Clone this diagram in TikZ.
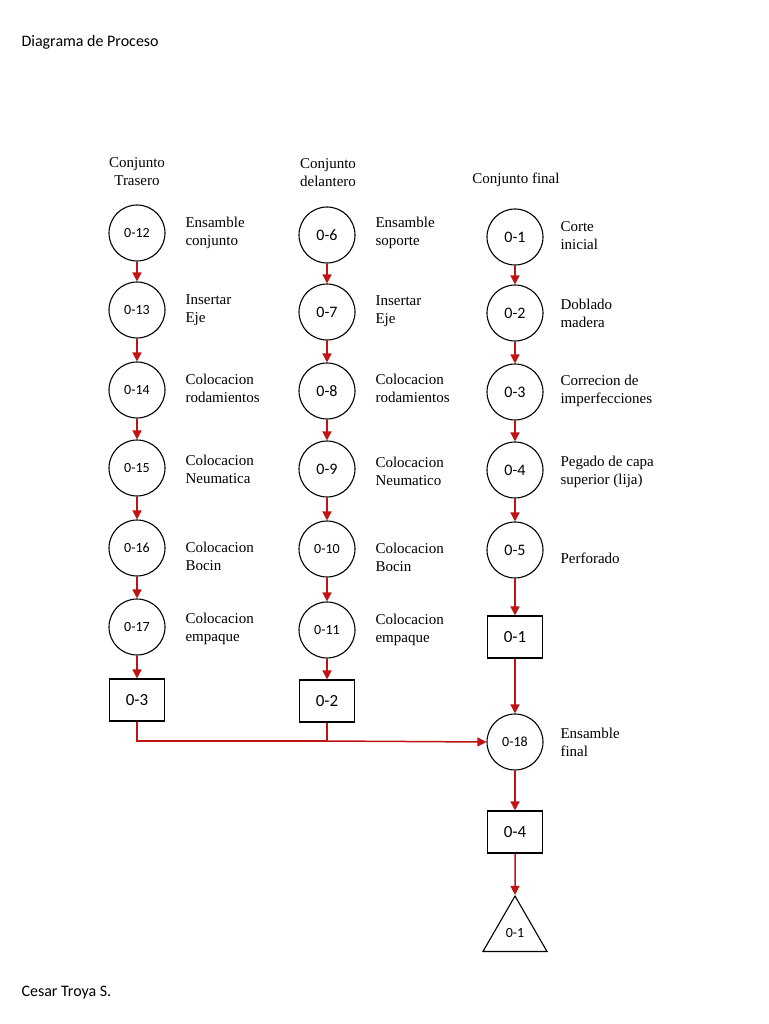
\documentclass[tikz,border=0pt]{standalone}
\usepackage{fontspec}
\setmainfont{Liberation Serif}
\newfontfamily\calfnt{Carlito}
\usetikzlibrary{shapes.geometric,arrows.meta}
\definecolor{ar}{RGB}{192,20,20}
\begin{document}
\begin{tikzpicture}[x=1pt,y=-1pt,
 op/.style={circle,draw,line width=1.1pt,minimum size=56pt,inner sep=0pt,font=\calfnt\fontsize{16}{16}\selectfont},
 ops/.style={op,font=\calfnt\fontsize{14}{14}\selectfont},
 bx/.style={draw,line width=1.1pt,minimum width=55pt,minimum height=42pt,font=\calfnt\fontsize{17}{17}\selectfont},
 tri/.style={draw,line width=1.1pt,regular polygon,regular polygon sides=3,minimum size=74pt,inner sep=0pt,font=\calfnt\fontsize{14}{14}\selectfont},
 lb/.style={anchor=west,align=left,font=\fontsize{15}{18}\selectfont},
 hd/.style={align=center,font=\fontsize{15}{18}\selectfont},
 ln/.style={draw=ar,line width=1.5pt},
 a/.style={ln,-{Triangle[length=9pt,width=9pt]}}]
\useasboundingbox (0,0) rectangle (768,1024);
\node[anchor=west,font=\calfnt\fontsize{16}{16}\selectfont] (t) at (18,42) {Diagrama de Proceso};
\node[anchor=west,font=\calfnt\fontsize{16}{16}\selectfont] (s) at (18,993) {Cesar Troya S.};
\node[hd] (h1) at (137,172) {Conjunto\\Trasero};
\node[hd] (h2) at (328,173) {Conjunto\\delantero};
\node[hd] (h3) at (516,180) {Conjunto final};
% col1
\node[ops] (c12) at (137,233) {0-12};
\node[ops] (c13) at (137,310) {0-13};
\node[ops] (c14) at (137,390) {0-14};
\node[ops] (c15) at (137,468) {0-15};
\node[ops] (c16) at (137,548) {0-16};
\node[ops] (c17) at (137,627) {0-17};
\node[bx] (b3) at (137,700) {0-3};
\node[lb] (l12) at (182,233) {Ensamble\\conjunto};
\node[lb] (l13) at (182,310) {Insertar\\Eje};
\node[lb] (l14) at (182,388) {Colocacion\\rodamientos};
\node[lb] (l15) at (182,469) {Colocacion\\Neumatica};
\node[lb] (l16) at (182,556) {Colocacion\\Bocin};
\node[lb] (l17) at (182,629) {Colocacion\\empaque};
% col2
\node[op] (c6) at (327,235) {0-6};
\node[op] (c7) at (327,312) {0-7};
\node[op] (c8) at (327,391) {0-8};
\node[op] (c9) at (327,469) {0-9};
\node[ops] (c10) at (327,549) {0-10};
\node[ops] (c11) at (327,630) {0-11};
\node[bx] (b2) at (327,701) {0-2};
\node[lb] (l6) at (372,233) {Ensamble\\soporte};
\node[lb] (l7) at (372,311) {Insertar\\Eje};
\node[lb] (l8) at (372,388) {Colocacion\\rodamientos};
\node[lb] (l9) at (372,471) {Colocacion\\Neumatico};
\node[lb] (l10) at (372,557) {Colocacion\\Bocin};
\node[lb] (l11) at (372,630) {Colocacion\\empaque};
% col3
\node[op] (c1) at (515,237) {0-1};
\node[op] (c2) at (515,313) {0-2};
\node[op] (c3) at (515,392) {0-3};
\node[op] (c4) at (515,470) {0-4};
\node[op] (c5) at (515,550) {0-5};
\node[bx] (b1) at (515,637) {0-1};
\node[ops] (c18) at (515,742) {0-18};
\node[bx] (b4) at (515,832) {0-4};
\node[tri] (tr) at (515,933) {0-1};
\node[lb] (l1) at (557,236) {Corte\\inicial};
\node[lb] (l2) at (557,313) {Doblado\\madera};
\node[lb] (l3) at (557,391) {Correcion de\\imperfecciones};
\node[lb] (l4) at (557,472) {Pegado de capa\\superior (lija)};
\node[lb] (l5) at (557,558) {Perforado};
\node[lb] (l18) at (557,742) {Ensamble\\final};
\foreach \p/\q in {c12/c13,c13/c14,c14/c15,c15/c16,c16/c17,c17/b3,c6/c7,c7/c8,c8/c9,c9/c10,c10/c11,c11/b2,c1/c2,c2/c3,c3/c4,c4/c5,c5/b1,b1/c18,c18/b4,b4/tr}
  \draw[a] (\p) -- (\q);
\coordinate (j) at (327,741);
\draw[ln] (b3.south) |- (j);
\draw[ln] (b2.south) -- (j);
\draw[a] (j) -- (c18.west);
\end{tikzpicture}
\end{document}
